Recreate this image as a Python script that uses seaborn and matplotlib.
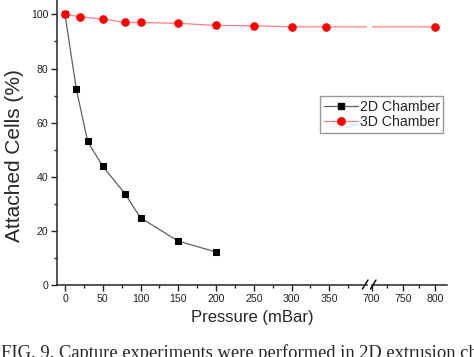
import numpy as np
import pandas as pd
import matplotlib
matplotlib.use('Agg')
import matplotlib.pyplot as plt
from matplotlib.ticker import MultipleLocator
from matplotlib.lines import Line2D
import seaborn as sns

# data
pressure_2d = [0, 15, 30, 50, 80, 100, 150, 200]
cells_2d = [100, 72.4, 53.1, 43.9, 33.6, 24.9, 16.3, 12.3]
pressure_3d = [0, 20, 50, 80, 100, 150, 200, 250, 300, 345, 800]
cells_3d = [100, 99.1, 98.3, 97.0, 97.0, 96.7, 95.9, 95.8, 95.4, 95.4, 95.4]
labels = ['2D Chamber', '3D Chamber']
caption = 'FIG. 9. Capture experiments were performed in 2D extrusion ch'

sns.set_style('ticks')
plt.rcParams['font.family'] = ['Liberation Sans', 'DejaVu Sans']
plt.rcParams['axes.linewidth'] = 1.1
plt.rcParams['xtick.major.width'] = 1.0
plt.rcParams['ytick.major.width'] = 1.0
plt.rcParams['xtick.minor.width'] = 1.0
plt.rcParams['ytick.minor.width'] = 1.0

df2 = pd.DataFrame({'Pressure': pressure_2d, 'Cells': cells_2d})
df3 = pd.DataFrame({'Pressure': pressure_3d, 'Cells': cells_3d})

W, H = 474, 357
fig = plt.figure(figsize=(W / 100, H / 100), dpi=100)

def px(x0, x1, y0, y1):
    return [x0 / W, 1 - y1 / H, (x1 - x0) / W, (y1 - y0) / H]

ax1 = fig.add_axes(px(57.3, 366.7, 0, 285.3))
ax2 = fig.add_axes(px(371.5, 446.7, 0, 285.3))

style2 = dict(color='#606060', lw=0.9, marker='s', markersize=4.3,
              markerfacecolor='black', markeredgecolor='black')
style3 = dict(color='#ff8080', lw=0.9, marker='o', markersize=5.4,
              markerfacecolor='#ff0000', markeredgecolor='#ff0000')

for ax in (ax1, ax2):
    sns.lineplot(data=df2, x='Pressure', y='Cells', ax=ax, **style2)
    sns.lineplot(data=df3, x='Pressure', y='Cells', ax=ax, **style3)
    ax.set_ylim(0, 105.3)
    ax.spines['top'].set_visible(False)
    ax.spines['right'].set_visible(False)
    ax.xaxis.set_major_locator(MultipleLocator(50))
    ax.xaxis.set_minor_locator(MultipleLocator(25))
    ax.tick_params(axis='both', which='major', direction='out', length=4.5,
                   labelsize=7.6, pad=2, colors='#222222', labelcolor='#222222')
    ax.tick_params(axis='both', which='minor', direction='out', length=2.5,
                   colors='#222222')
    ax.set_xlabel('')
    ax.set_ylabel('')

ax1.set_xlim(-10.2, 399.5)
ax2.set_xlim(699.8, 818.4)
ax1.yaxis.set_major_locator(MultipleLocator(20))
ax1.yaxis.set_minor_locator(MultipleLocator(10))
ax2.spines['left'].set_visible(False)
ax2.tick_params(axis='y', which='both', left=False, labelleft=False)

fig.text(14.5 / W, 1 - 156 / H, 'Attached Cells (%)', fontsize=15,
         rotation=90, ha='center', va='center')
fig.text((192 + 313) / 2 / W, 1 - 322 / H, 'Pressure (mBar)', fontsize=12,
         ha='center', va='baseline')

# axis break marks
for xa in (362.5, 370.5):
    fig.add_artist(Line2D([xa / W, (xa + 5.5) / W], [1 - 289 / H, 1 - 280 / H],
                          transform=fig.transFigure, color='black', lw=1.0))

handles = [Line2D([], [], **style2), Line2D([], [], **style3)]
leg = fig.legend(handles, labels, loc='upper left',
                 bbox_to_anchor=(320 / W, 1 - 96 / H), bbox_transform=fig.transFigure,
                 fontsize=10.2, frameon=True, fancybox=False, borderaxespad=0,
                 handlelength=2.4, handletextpad=0.15, labelspacing=0.1,
                 borderpad=0.25)
leg.get_frame().set_edgecolor('#808080')
leg.get_frame().set_linewidth(1.0)

fig.text(0.002, -0.004, caption, family=['Liberation Serif', 'DejaVu Serif'],
         fontsize=13.3, ha='left', va='baseline')

fig.savefig('out.png', dpi=100)
